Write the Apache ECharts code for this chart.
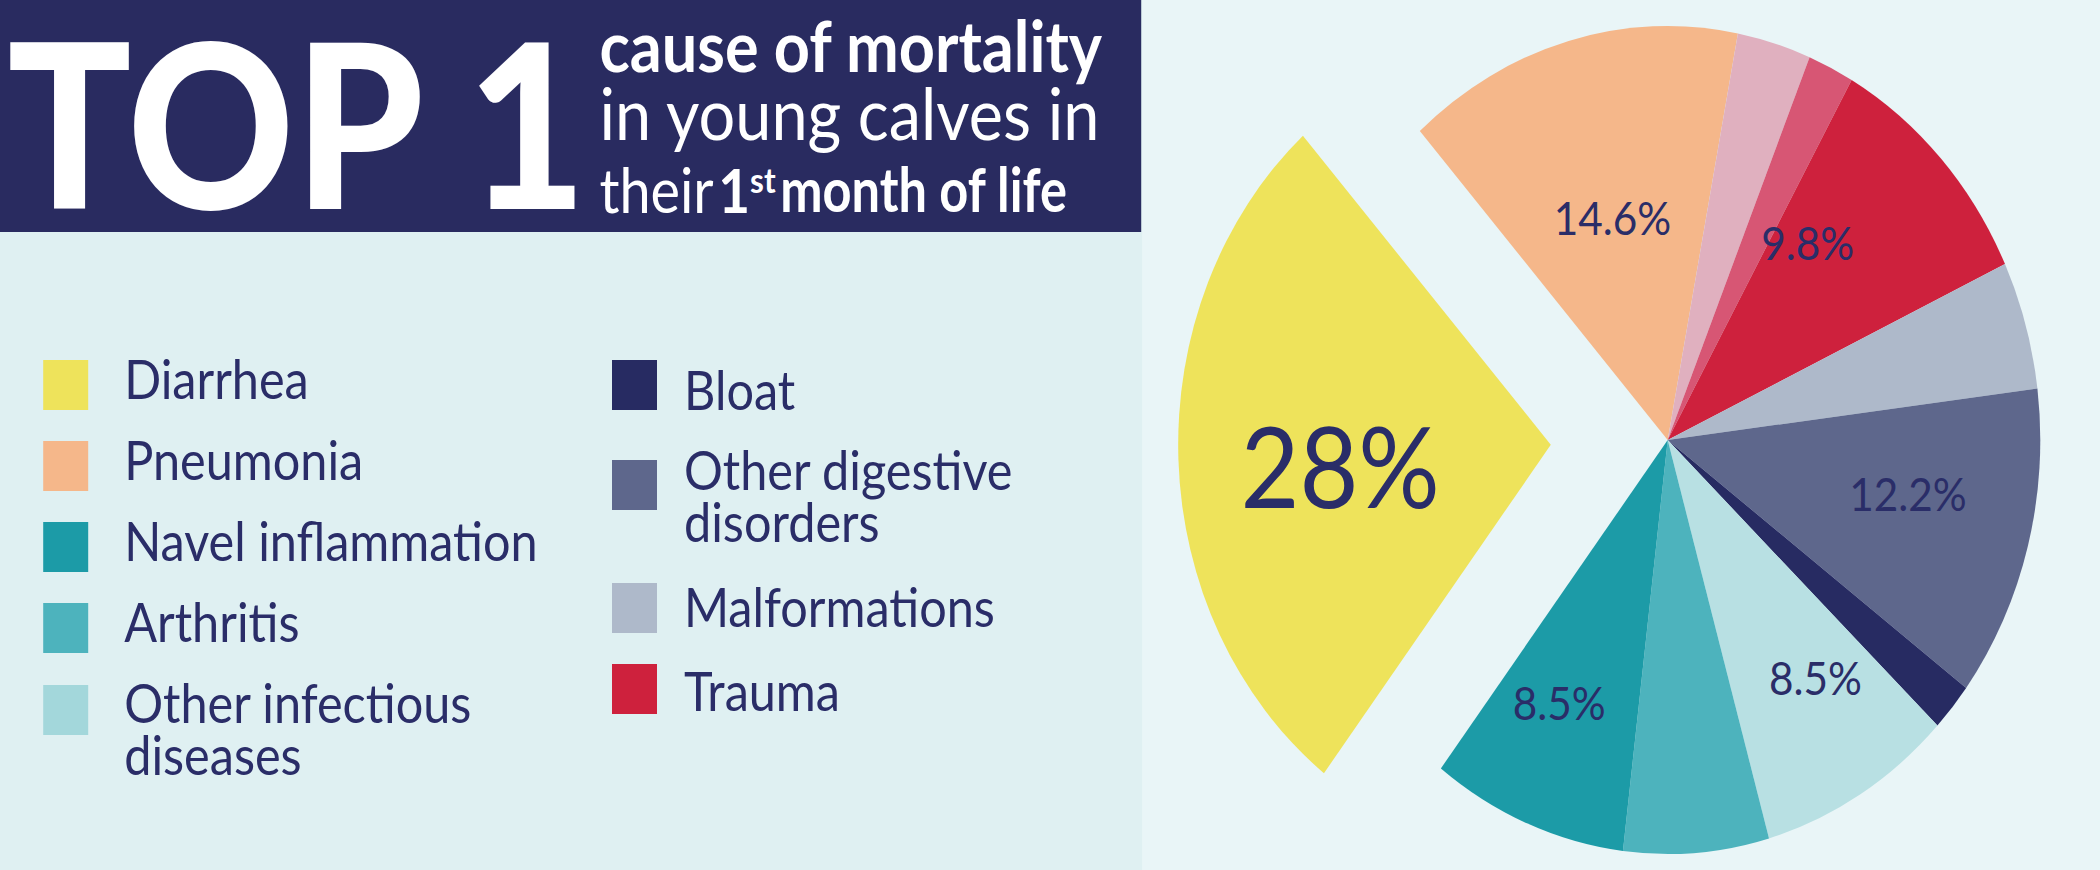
<!DOCTYPE html>
<html>
<head>
<meta charset="utf-8">
<title>Top 1 cause of mortality in young calves</title>
<script src="https://cdn.jsdelivr.net/npm/echarts@6/dist/echarts.min.js"></script>
<style>
  html, body { margin: 0; padding: 0; overflow: hidden; }
  /* the printed infographic is squeezed sideways: draw wide, then narrow it to 2100px */
  #chart { width: 2334px; height: 870px; transform: scaleX(0.9); transform-origin: 0 0; }
</style>
</head>
<body>
<div id="chart"></div>
<script>
// slices in clockwise order, starting with the pulled-out Diarrhea wedge
const causes = ['Diarrhea', 'Pneumonia', 'Other', 'Unspecified', 'Trauma', 'Malformations',
  'Other digestive disorders', 'Bloat', 'Other infectious diseases', 'Arthritis', 'Navel inflammation'];
const shares = [28, 14.6, 3.2, 2.0, 9.8, 5.0, 12.2, 1.9, 8.5, 6.3, 8.5];
const sliceColors = ['#eee35b', '#f5b78a', '#e0b0bf', '#d75674', '#ce213d', '#aeb9ca',
  '#5e678c', '#272b62', '#b8e0e3', '#4db3bd', '#1c9ba7'];
// only these wedges carry a printed value
const labelled = ['Diarrhea', 'Pneumonia', 'Trauma', 'Other digestive disorders',
  'Other infectious diseases', 'Navel inflammation'];

// legend columns as printed
const legendLeft = ['Diarrhea', 'Pneumonia', 'Navel inflammation', 'Arthritis', 'Other infectious diseases'];
const legendRight = ['Bloat', 'Other digestive disorders', 'Malformations', 'Trauma'];
const legendText = {
  'Other infectious diseases': 'Other infectious\ndiseases',
  'Other digestive disorders': 'Other digestive\ndisorders'
};
// the printed swatch is a shade darker than its wedge
const swatchColor = { 'Other infectious diseases': '#a3d7db' };

const NAVY = '#292b60';
const INK = '#2a2d68';
const FONT = 'Lato';
const CX = 1853, CY = 440, R = 414;
const LH = 52;
// swatch tops, and how far each first text line sits off the swatch middle
const rowTopsLeft = [360, 441, 522, 603, 684];
const rowTopsRight = [360, 459, 583, 663];
const textShiftLeft = [-7, -7, -7, -7, -8];
const textShiftRight = [4, -16, -2, 1];
// where each printed value sits: [share of radius, turn in degrees off the wedge middle]
const labelSpot = {
  'Diarrhea': [0.56, -2.6],
  'Pneumonia': [0.55, 0],
  'Trauma': [0.6, -9],
  'Other digestive disorders': [0.65, -3.6],
  'Other infectious diseases': [0.69, -3.6],
  'Navel inflammation': [0.69, 2.5]
};

const chart = echarts.init(document.getElementById('chart'), null, { renderer: 'svg' });

function legendItem (name, left, iconTop, textPad, shift) {
  const lines = (legendText[name] || name).split('\n').length;
  // the swatch is a 50x50 square inside a taller icon box, so the text can sit off-centre
  const t = Math.max(0, -(2 * shift + (lines - 1) * LH));
  const h = 2 * (t + 25 + shift) + (lines - 1) * LH;
  const textTop = h / 2 - lines * LH / 2;
  const item = { name: name };
  if (swatchColor[name]) item.itemStyle = { color: swatchColor[name] };
  return {
    data: [item],
    left: left,
    top: iconTop - t + Math.min(0, textTop),
    padding: 0,
    orient: 'vertical',
    icon: 'path://M0,0L0,0M0,' + t + 'H50V' + (t + 50) + 'H0ZM0,' + h + 'L0,' + h,
    itemWidth: 50,
    itemHeight: h,
    itemStyle: { borderWidth: 0 },
    formatter: n => legendText[n] || n,
    textStyle: {
      fontFamily: FONT,
      fontSize: 54,
      color: INK,
      lineHeight: LH,
      padding: [0, 0, 0, textPad]
    }
  };
}

const legends = legendLeft.map((n, i) => legendItem(n, 48, rowTopsLeft[i], 35, textShiftLeft[i]))
  .concat(legendRight.map((n, i) => legendItem(n, 680, rowTopsRight[i], 25, textShiftRight[i])));

const headRich = {
  b: { fontFamily: FONT, fontWeight: 'bold', fontSize: 70, lineHeight: 60, fill: '#fff' },
  r: { fontFamily: FONT, fontWeight: 'normal', fontSize: 72, lineHeight: 60, fill: '#fff' },
  r3: { fontFamily: FONT, fontWeight: 'normal', fontSize: 62, lineHeight: 54, fill: '#fff' },
  b3: { fontFamily: FONT, fontWeight: 'bold', fontSize: 61, lineHeight: 54, fill: '#fff' },
  sup: {
    fontFamily: FONT, fontWeight: 'bold', fontSize: 35, lineHeight: 32, fill: '#fff',
    verticalAlign: 'top'
  }
};

chart.setOption({
  backgroundColor: '#e9f5f7',
  animation: false,
  graphic: [
    { type: 'rect', z: -10, shape: { x: 0, y: 0, width: 1269, height: 870 }, style: { fill: '#dff0f2' } },
    { type: 'rect', z: -9, shape: { x: 0, y: 0, width: 1268, height: 232 }, style: { fill: NAVY } },
    {
      type: 'text', x: 8, y: 120, z: 5,
      style: { text: 'TOP 1', fill: '#fff', fontFamily: FONT, fontWeight: 900, fontSize: 229, verticalAlign: 'middle' }
    },
    {
      type: 'text', x: 666, y: 45, z: 5,
      style: { text: '{b|cause of mortality}', rich: headRich, verticalAlign: 'middle' }
    },
    {
      type: 'text', x: 666, y: 112, z: 5,
      style: { text: '{r|in young calves in}', rich: headRich, verticalAlign: 'middle' }
    },
    {
      type: 'text', x: 666, y: 189, z: 5,
      style: { text: '{r3|their}', rich: headRich, verticalAlign: 'middle' }
    },
    {
      type: 'text', x: 798, y: 189, z: 5,
      style: { text: '{b3|1}{sup|st}', rich: headRich, verticalAlign: 'middle' }
    },
    {
      type: 'text', x: 867, y: 189, z: 5, scaleX: 0.92,
      style: { text: '{b3|month of life}', rich: headRich, verticalAlign: 'middle' }
    }
  ],
  legend: legends,
  series: [
    {
      type: 'pie',
      center: [CX, CY],
      radius: R,
      startAngle: 232.5,
      clockwise: true,
      selectedMode: 'single',
      selectedOffset: 130,
      avoidLabelOverlap: false,
      itemStyle: { borderWidth: 0 },
      label: {
        position: 'inside',
        fontFamily: FONT,
        fontSize: 47,
        color: INK,
        textBorderWidth: 0,
        formatter: p => p.value + '%'
      },
      labelLine: { show: false },
      labelLayout: function (p) {
        const spot = labelSpot[causes[p.dataIndex]];
        if (!spot) return {};
        const rect = p.labelRect;
        const lx = rect.x + rect.width / 2;
        const ly = rect.y + rect.height / 2;
        const ang = Math.atan2(ly - CY, lx - CX) + spot[1] * Math.PI / 180;
        const d = Math.hypot(lx - CX, ly - CY) + (spot[0] - 0.5) * R;
        return { dx: CX + d * Math.cos(ang) - lx, dy: CY + d * Math.sin(ang) - ly };
      },
      data: causes.map((name, i) => ({
        name: name,
        value: shares[i],
        selected: name === 'Diarrhea',
        itemStyle: { color: sliceColors[i] },
        label: { show: labelled.indexOf(name) > -1, fontSize: name === 'Diarrhea' ? 113 : 47 }
      }))
    }
  ]
});
</script>
</body>
</html>
